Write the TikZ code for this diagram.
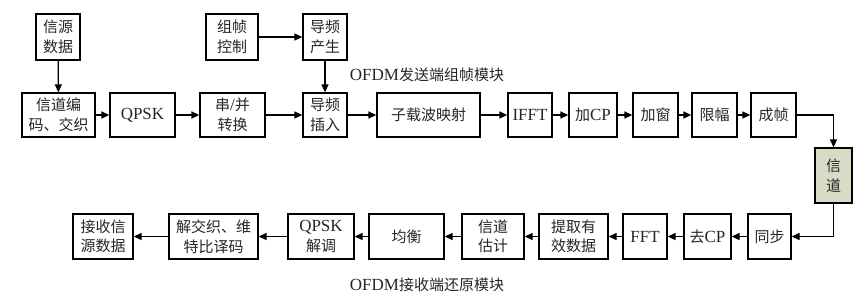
\documentclass[tikz,border=0pt]{standalone}
\usepackage{fontspec}
\setmainfont{Liberation Serif}
\newfontfamily\cjk{Noto Sans CJK SC}
\newcommand{\lat}[1]{{\rmfamily\fontsize{17}{19}\selectfont #1}}
\usetikzlibrary{arrows.meta}
\begin{document}
\begin{tikzpicture}[x=1pt,y=-1pt,
  blk/.style={draw,line width=1.3pt,fill=white,inner sep=0pt,align=center,
    font=\cjk\fontsize{15}{19.5}\selectfont,text=black!85},
  conn/.style={line width=1.3pt,-{Triangle[length=8pt,width=7pt]}},
  lbl/.style={font=\cjk\fontsize{15}{19}\selectfont,inner sep=0pt,text=black!85}]
\useasboundingbox (0,0) rectangle (864,297);
% top
\node[blk,minimum width=44pt,minimum height=46pt] (src) at (58,37) {信源\\数据};
\node[blk,minimum width=52pt,minimum height=46pt] (ctl) at (232,37) {组帧\\控制};
\node[blk,minimum width=44pt,minimum height=46pt] (pg) at (325,37) {导频\\产生};
% transmit row
\node[blk,minimum width=73pt,minimum height=44pt] (enc) at (58.5,115) {信道编\\码、交织};
\node[blk,minimum width=65pt,minimum height=44pt] (qpsk) at (142.5,115) {\lat{QPSK}};
\node[blk,minimum width=65pt,minimum height=44pt] (sp) at (232.5,115) {串\lat{/}并\\转换};
\node[blk,minimum width=44pt,minimum height=44pt] (pi) at (325,115) {导频\\插入};
\node[blk,minimum width=103pt,minimum height=44pt] (map) at (428.5,115) {子载波映射};
\node[blk,minimum width=44pt,minimum height=44pt] (ifft) at (530,115) {\lat{IFFT}};
\node[blk,minimum width=48pt,minimum height=44pt] (acp) at (593,115) {加\lat{CP}};
\node[blk,minimum width=45pt,minimum height=44pt] (win) at (655.5,115) {加窗};
\node[blk,minimum width=45pt,minimum height=44pt] (clip) at (714.5,115) {限幅};
\node[blk,minimum width=45pt,minimum height=44pt] (frm) at (773.5,115) {成帧};
\node[lbl] (tlab) at (427,75) {\lat{OFDM}发送端组帧模块};
% channel
\node[blk,fill={rgb,255:red,216;green,220;blue,198},minimum width=37pt,minimum height=55pt] (ch) at (833.5,175.5) {信\\道};
% receive row
\node[blk,minimum width=60pt,minimum height=45pt] (rx) at (103,236.5) {接收信\\源数据};
\node[blk,minimum width=89pt,minimum height=45pt] (dec) at (213.5,236.5) {解交织、维\\特比译码};
\node[blk,minimum width=66pt,minimum height=45pt] (qd) at (321,236.5) {\lat{QPSK}\\解调};
\node[blk,minimum width=75pt,minimum height=45pt] (eq) at (406.5,236.5) {均衡};
\node[blk,minimum width=62pt,minimum height=45pt] (est) at (493,236.5) {信道\\估计};
\node[blk,minimum width=69pt,minimum height=45pt] (ext) at (573.5,236.5) {提取有\\效数据};
\node[blk,minimum width=44pt,minimum height=45pt] (fft) at (645,236.5) {\lat{FFT}};
\node[blk,minimum width=47pt,minimum height=45pt] (rcp) at (707.5,236.5) {去\lat{CP}};
\node[blk,minimum width=43pt,minimum height=45pt] (syn) at (769.5,236.5) {同步};
\node[lbl] (blab) at (427,285) {\lat{OFDM}接收端还原模块};
% connectors
\draw[conn] (src) -- (enc);
\draw[conn] (ctl) -- (pg);
\draw[conn] (pg) -- (pi);
\draw[conn] (enc) -- (qpsk);
\draw[conn] (qpsk) -- (sp);
\draw[conn] (sp) -- (pi);
\draw[conn] (pi) -- (map);
\draw[conn] (map) -- (ifft);
\draw[conn] (ifft) -- (acp);
\draw[conn] (acp) -- (win);
\draw[conn] (win) -- (clip);
\draw[conn] (clip) -- (frm);
\draw[conn] (frm.east) -| (ch.north);
\draw[conn] (ch.south) |- (syn.east);
\draw[conn] (syn) -- (rcp);
\draw[conn] (rcp) -- (fft);
\draw[conn] (fft) -- (ext);
\draw[conn] (ext) -- (est);
\draw[conn] (est) -- (eq);
\draw[conn] (eq) -- (qd);
\draw[conn] (qd) -- (dec);
\draw[conn] (dec) -- (rx);
\end{tikzpicture}
\end{document}
